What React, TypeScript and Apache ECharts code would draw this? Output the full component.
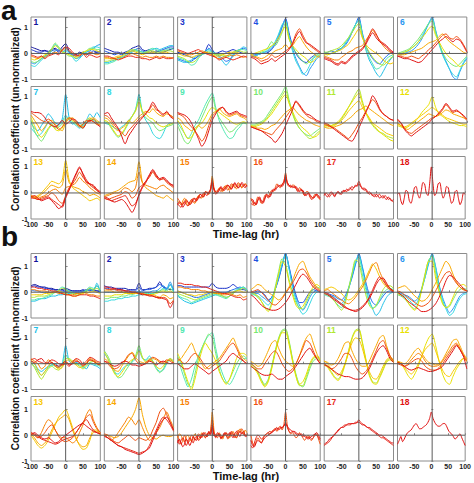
import React, { useEffect, useRef } from "react";
import * as echarts from "echarts";

// Cluster colours 1..18 (jet-like ramp)
const PALETTE = [
  "#10109a", "#1420b0", "#1830c8", "#1c50e0", "#2070f0", "#2896f0",
  "#20c0e8", "#30d8e0", "#50e8b0", "#78e870", "#b0e830", "#e8e000",
  "#f8c800", "#f8a800", "#f88000", "#f05010", "#e82818", "#e01010",
];

const LAG_MIN = -100;
const LAG_MAX = 100;
const LAG_STEP = 50;
const CORR_MIN = -1;
const CORR_STEP = 1;
const CORR_MAX_A = 1.4;
const CORR_MAX_B = 1.5;

// Curves are correlation x 100, sampled evenly from -100 h to +100 h.
// ---------- panel a ----------
const A1_COLORS = [1, 3, 6, 8, 10, 12, 15, 17];
const A1 = [
  [25, 20, 15, 10, 12, 8, 15, 20, 10, 25, 38, 10, 0, -5, 5, 0, -5, 5, 0, 5, 10],
  [15, 10, 5, 5, 10, 5, 10, 15, 5, 15, 25, 5, -5, -10, 0, 5, -5, 0, 10, 5, 5],
  [-35, -40, -30, -20, -10, -5, 0, 10, 15, 5, 15, 5, -10, -20, -15, -5, 5, 10, 20, 30, 35],
  [-45, -50, -40, -25, -15, -5, 10, 35, 20, 5, 10, 0, -15, -30, -20, -5, 5, 15, 25, 25, 20],
  [-30, -35, -30, -20, -10, 5, 20, 40, 25, 10, 0, -10, -10, -20, -10, 0, 10, 20, 20, 15, 15],
  [-20, -25, -20, -15, -5, 0, 15, 30, 20, 5, 0, -5, -10, -15, -5, 5, 10, 15, 15, 10, 5],
  [-10, -15, -20, -10, -15, -5, 0, 5, 0, 10, 20, 10, 0, -10, -5, 0, -5, 5, 0, -5, 0],
  [-5, -10, -15, -10, -20, -10, -5, 0, -5, 15, 25, 20, 5, -5, -10, 0, -15, -5, -10, -15, -10],
];
const A2_COLORS = [2, 4, 7, 9, 11, 13, 15, 17];
const A2 = [
  [20, 15, 10, 5, 5, 0, 5, 10, 20, 25, 30, 15, 10, 15, 5, 10, 5, 5, 10, 15, 20],
  [10, 5, 0, -5, 0, -5, 0, 5, 10, 15, 20, 10, 5, 5, 0, 5, 10, 15, 20, 25, 25],
  [-35, -35, -30, -25, -20, -15, -10, 0, 5, 10, 10, 5, 0, 10, 15, 20, 15, 20, 25, 30, 30],
  [-40, -40, -35, -30, -20, -15, -5, 5, 10, 15, 10, 5, 5, 15, 20, 15, 10, 10, 15, 20, 15],
  [-30, -30, -25, -25, -15, -10, 0, 10, 15, 10, 5, 0, 5, 10, 10, 5, 5, 10, 10, 10, 5],
  [-20, -20, -20, -15, -10, -10, 0, 5, 10, 5, 0, -5, 0, 5, 5, 0, 0, 5, 5, 0, 0],
  [-15, -15, -20, -20, -15, -20, -10, -5, 0, -5, -10, -15, -10, -15, -15, -10, -15, -10, -15, -15, -20],
  [-10, -10, -15, -20, -25, -20, -15, -10, -10, -15, -15, -20, -20, -25, -20, -15, -20, -15, -20, -20, -15],
];
const A3_COLORS = [3, 5, 7, 9, 11, 13, 15, 17];
const A3 = [
  [5, 0, -5, -10, -15, -20, -10, -5, 10, 35, 15, 0, 5, 10, 5, 10, 15, 10, 5, 0, 5],
  [-20, -25, -30, -35, -30, -20, -10, -5, 5, 20, 10, 0, -10, -20, -30, -25, -5, 10, 15, 20, 15],
  [-25, -30, -35, -30, -25, -15, -5, 0, 10, 15, 5, -5, -15, -30, -45, -30, -10, 5, 15, 25, 20],
  [-15, -20, -25, -35, -45, -40, -20, -5, 0, 10, 5, 0, -5, -10, -15, -10, 0, 10, 15, 15, 10],
  [-10, -15, -20, -30, -35, -30, -15, 0, 5, 5, 0, -5, -5, -5, -10, -5, 5, 10, 10, 5, 5],
  [0, -5, -10, -10, -15, -10, -5, 0, 5, 0, -5, -10, -10, -5, 0, 5, 5, 5, 0, 0, 0],
  [10, 5, 0, -5, -5, 0, 5, 10, 5, 0, -5, -15, -20, -15, -10, -5, -10, -5, -10, -15, -10],
  [15, 10, 5, 0, 5, 10, 15, 5, 0, -5, -10, -15, -25, -20, -15, -20, -25, -20, -15, -10, -15],
];
const A4_COLORS = [4, 6, 8, 10, 12, 14, 16, 18];
const A4 = [
  [0, -5, -5, 0, 0, 5, 15, 35, 60, 100, 135, 80, 30, 0, -20, -30, -35, -20, -10, 0, 0],
  [-10, -10, -5, 0, 5, 10, 20, 40, 70, 105, 130, 70, 20, -20, -50, -75, -85, -60, -40, -20, -10],
  [-15, -10, -5, 0, 5, 15, 25, 45, 75, 110, 125, 65, 10, -30, -55, -80, -70, -45, -20, -10, -5],
  [-5, 0, 0, 5, 10, 25, 45, 30, 50, 80, 120, 60, 25, 5, -15, -30, -40, -30, -15, -5, 0],
  [-5, 0, 5, 10, 15, 20, 30, 40, 60, 85, 105, 55, 30, 15, 0, -10, -20, -35, -30, -15, -5],
  [-5, -10, -15, -20, -15, -5, 0, 10, 15, 20, 35, 20, 30, 50, 65, 45, 25, 10, 0, -10, -15],
  [-10, -15, -20, -30, -25, -20, -5, -15, -10, 0, 10, 20, 40, 75, 95, 70, 45, 30, 20, 10, 0],
  [-15, -20, -30, -40, -35, -30, -20, -30, -20, -10, 0, 15, 35, 65, 85, 60, 40, 35, 25, 15, 5],
];
const A5_COLORS = [5, 7, 9, 11, 13, 15, 17, 18];
const A5 = [
  [0, 5, 10, 5, 15, 20, 30, 50, 80, 110, 140, 80, 30, 0, -20, -35, -40, -25, -10, 0, 5],
  [5, 0, 0, 5, 10, 20, 35, 55, 80, 110, 130, 75, 15, -25, -50, -75, -90, -70, -45, -25, -10],
  [0, -5, 0, 5, 10, 20, 40, 60, 85, 110, 125, 70, 20, -15, -40, -60, -55, -40, -20, -10, -5],
  [5, 5, 10, 15, 20, 30, 45, 60, 80, 100, 115, 65, 30, 5, -15, -30, -40, -45, -35, -20, -10],
  [-5, -5, 0, 5, 10, 15, 25, 35, 55, 75, 95, 60, 35, 20, 10, 0, -10, -25, -35, -40, -35],
  [-10, -15, -20, -25, -25, -15, -5, 5, 10, 20, 25, 30, 50, 70, 90, 70, 50, 30, 15, 5, -5],
  [-15, -20, -25, -35, -40, -30, -35, -25, -10, 0, 10, 20, 40, 70, 95, 75, 50, 40, 30, 15, 5],
  [-20, -25, -30, -40, -45, -35, -40, -30, -15, -5, 5, 15, 35, 60, 80, 60, 45, 35, 25, 10, 0],
];
const A6_COLORS = [6, 8, 10, 12, 14, 16, 18];
const A6 = [
  [0, -5, 0, 5, 10, 20, 35, 55, 85, 115, 140, 90, 40, 0, -30, -60, -90, -100, -70, -40, -20],
  [-5, 0, 5, 10, 20, 30, 45, 65, 90, 115, 135, 85, 35, -5, -35, -60, -80, -90, -65, -35, -15],
  [0, 5, 10, 15, 25, 40, 55, 75, 95, 115, 125, 80, 40, 5, -20, -35, -45, -50, -40, -25, -10],
  [0, 0, 5, 10, 20, 30, 45, 60, 75, 95, 105, 70, 45, 20, 0, -15, -25, -40, -50, -45, -35],
  [-5, -5, -5, 0, 5, 10, 15, 20, 30, 40, 45, 50, 65, 75, 60, 45, 35, 25, 15, 5, 0],
  [-10, -10, -15, -15, -10, -15, -20, -10, 0, 15, 25, 40, 55, 70, 75, 60, 55, 65, 55, 35, 10],
  [-10, -15, -20, -20, -25, -30, -35, -30, -15, 0, 15, 30, 45, 55, 65, 55, 45, 55, 50, 30, 5],
];
const A7_COLORS = [7, 8, 10, 12, 14, 16, 18];
const A7 = [
  [0, -20, -30, -10, 10, 35, 20, 0, -5, 15, 110, 20, -5, 5, 0, -10, 10, 35, 20, 40, 20],
  [-20, -35, -50, -40, -20, 0, -5, -15, -10, 5, 30, 10, 0, -10, -20, -10, 5, 15, 10, 0, 5],
  [10, -30, -55, -70, -50, -25, -10, -20, -15, -5, 20, 15, 5, -5, -15, -20, 0, 10, 15, 5, 0],
  [20, -10, -40, -55, -40, -20, -5, -25, -30, -20, 10, 20, 10, 0, -10, -5, 10, 20, 5, -5, -5],
  [30, 10, -10, -30, -15, 5, 10, -5, -20, -30, 0, 15, 20, 5, -10, -15, 0, 15, 20, 10, 0],
  [40, 30, 20, 10, 5, 15, 5, -10, -25, -15, 5, 20, 15, 0, -15, -5, 10, 5, 15, 0, -10],
  [45, 40, 40, 35, 20, 0, -10, -15, -5, 10, -5, 5, 15, 10, -10, -20, 0, 10, 5, -5, -15],
];
const A8_COLORS = [8, 10, 12, 14, 16, 18];
const A8 = [
  [0, -5, -10, -20, -25, -15, -5, 10, 25, 50, 110, 40, 10, -10, -40, -55, -60, -40, -10, 0, -5],
  [5, 0, -20, -40, -55, -45, -25, 0, 25, 50, 95, 40, 20, 10, 0, -20, -30, -25, -15, -10, -5],
  [10, 5, -15, -35, -50, -40, -20, 5, 25, 45, 80, 45, 35, 20, 15, 0, -10, -15, -10, -5, 0],
  [20, 15, 0, -20, -30, -20, -10, 10, 0, 10, 25, 35, 45, 40, 55, 40, 30, 25, 35, 30, 20],
  [30, 25, 10, -10, -25, -35, -50, -30, -15, 0, 15, 25, 40, 50, 70, 50, 45, 35, 40, 30, 20],
  [35, 40, 20, 0, -20, -50, -80, -50, -30, -10, 5, 20, 35, 55, 80, 60, 40, 30, 45, 25, 15],
];
const A9_COLORS = [9, 10, 12, 14, 16, 18];
const A9 = [
  [0, -20, -40, -60, -40, -10, 10, 40, 70, 95, 115, 60, 10, -20, -45, -60, -55, -30, -15, 0, 0],
  [-10, -40, -70, -80, -60, -30, -10, 20, 50, 80, 100, 50, 20, 0, -20, -35, -30, -15, -5, 0, -5],
  [10, -10, -40, -60, -55, -30, -10, 0, 20, 45, 60, 50, 40, 30, 20, 10, 0, -5, 0, 5, 0],
  [20, 10, -10, -20, -30, -20, -10, -20, -10, 10, 35, 45, 55, 40, 30, 25, 30, 35, 25, 20, 10],
  [35, 30, 20, 0, -15, -30, -50, -70, -50, -10, 25, 40, 50, 60, 40, 30, 35, 40, 30, 25, 20],
  [40, 35, 30, 20, 0, -30, -60, -90, -70, -30, 10, 35, 55, 60, 45, 35, 40, 45, 35, 30, 25],
];
const A10_COLORS = [10, 11, 12, 14, 16, 18];
const A10 = [
  [-5, -5, 0, 5, 15, 35, 55, 75, 95, 115, 140, 90, 40, 5, -20, -35, -45, -50, -40, -30, -20],
  [-10, -10, -5, 0, 10, 25, 45, 65, 85, 105, 125, 80, 35, 0, -20, -35, -50, -60, -55, -40, -30],
  [-10, -15, -10, -5, 5, 20, 35, 55, 75, 95, 110, 75, 45, 15, -5, -20, -30, -45, -55, -50, -35],
  [-15, -15, -20, -20, -25, -20, -10, -5, 10, 25, 40, 50, 60, 45, 30, 20, 10, 5, -5, -10, -15],
  [-15, -20, -25, -30, -35, -40, -45, -30, -15, 0, 20, 40, 60, 80, 65, 45, 30, 20, 15, 5, 0],
  [-15, -20, -25, -30, -40, -50, -60, -75, -60, -40, -10, 20, 50, 85, 70, 50, 35, 30, 20, 10, 5],
];
const A11_COLORS = [11, 12, 13, 14, 16, 18];
const A11 = [
  [-10, -5, -10, -5, 0, 15, 35, 60, 85, 110, 130, 85, 40, 10, -10, -25, -35, -40, -50, -55, -60],
  [-15, -15, -10, -5, 5, 20, 40, 60, 80, 100, 115, 75, 40, 15, -5, -20, -35, -45, -55, -65, -70],
  [-10, -10, -15, -10, 0, 10, 25, 45, 60, 75, 85, 60, 40, 20, 0, -10, -20, -30, -40, -45, -50],
  [-15, -20, -20, -15, -10, -5, 5, 15, 25, 40, 50, 55, 65, 55, 45, 35, 25, 15, 5, -5, -10],
  [-5, -10, -15, -20, -30, -40, -50, -60, -45, -25, 0, 20, 45, 70, 90, 75, 50, 35, 25, 15, 10],
  [0, -5, -15, -25, -35, -45, -55, -65, -70, -50, -20, 10, 40, 70, 105, 85, 55, 35, 25, 15, 10],
];
const A12_COLORS = [12, 13, 14, 16, 18];
const A12 = [
  [-10, -15, -20, -15, -5, 5, 20, 40, 55, 70, 100, 60, 35, 25, 15, 5, 0, -5, -10, -10, -15],
  [-5, -10, -15, -10, 0, 10, 20, 30, 40, 50, 60, 50, 40, 30, 20, 15, 10, 5, 0, -5, -5],
  [0, -10, -20, -25, -15, -5, 5, 15, 25, 35, 30, 25, 30, 40, 50, 45, 35, 30, 25, 20, 15],
  [10, 0, -20, -35, -40, -30, -20, -10, 0, 10, 20, 25, 35, 50, 70, 55, 40, 45, 40, 25, 10],
  [15, 0, -25, -40, -50, -40, -30, -20, -10, 0, 15, 25, 40, 55, 75, 60, 45, 50, 40, 30, 15],
];
const A13_COLORS = [13, 14, 15, 16, 17, 18];
const A13 = [
  [-10, -15, -10, 0, 15, 30, 45, 40, 35, 50, 125, 50, 20, 10, 0, -10, -20, -30, -25, -20, -30],
  [-15, -20, -15, -5, 5, 20, 30, 25, 20, 30, 90, 40, 25, 20, 15, 5, 0, -10, -5, -10, -20],
  [-10, -15, -20, -15, -10, 0, 10, 15, 5, -5, 20, 25, 30, 40, 60, 45, 35, 20, 10, 0, -5],
  [-15, -20, -25, -20, -15, -10, 0, -10, -30, -40, -10, 20, 35, 55, 80, 60, 45, 30, 20, 10, 0],
  [-20, -20, -25, -25, -20, -15, -25, -35, -45, -55, -20, 10, 40, 70, 95, 75, 50, 35, 30, 15, 5],
  [-15, -10, -20, -30, -25, -20, -30, -45, -60, -50, -15, 15, 45, 75, 100, 70, 40, 35, 25, 10, 0],
];
const A14_COLORS = [14, 15, 16, 17, 18];
const A14 = [
  [-10, -5, 0, 5, 10, 20, 30, 40, 45, 50, 120, 40, 20, 10, 0, -10, -15, -20, -10, -20, -30],
  [-15, -10, -5, 0, 0, 10, 20, 15, 5, 20, 80, 40, 30, 25, 20, 15, 25, 30, 20, 10, 0],
  [-20, -25, -20, -15, -10, -5, 5, 0, -20, -10, 20, 30, 45, 60, 80, 60, 50, 55, 40, 30, 20],
  [-20, -25, -30, -25, -20, -15, -10, -30, -50, -40, -10, 20, 40, 65, 85, 65, 50, 55, 45, 35, 30],
  [-15, -20, -30, -35, -30, -25, -35, -55, -75, -50, -5, 25, 45, 70, 90, 70, 55, 60, 50, 35, 25],
];
const A15_COLORS = [15, 16, 17, 18];
const A15 = [
  [-30, -40, -45, -30, -20, -35, -50, -40, -30, -35, -40, -25, -10, -15, -20, -5, 5, 0, -5, 10, 65, 20, 0, 5, 20, 15, 5, 20, 30, 20, 10, 25, 35, 25, 15, 30, 35, 20, 25, 35, 30],
  [-20, -30, -40, -45, -30, -25, -35, -45, -35, -20, -25, -30, -15, -5, -10, -15, 0, 5, -5, 15, 55, 15, 5, 10, 15, 5, 15, 25, 20, 10, 20, 35, 30, 20, 25, 40, 30, 20, 30, 35, 25],
  [-40, -50, -55, -40, -35, -45, -50, -35, -25, -30, -35, -20, -15, -20, -10, 0, -5, -10, 5, 10, 45, 10, -5, 5, 15, 20, 10, 15, 25, 30, 20, 15, 30, 35, 25, 20, 30, 35, 25, 20, 30],
  [-45, -35, -40, -55, -45, -30, -35, -45, -40, -25, -20, -30, -20, -5, -10, -15, 5, 0, 0, 15, 40, 15, 5, 0, 10, 25, 15, 10, 20, 30, 25, 15, 25, 40, 30, 20, 25, 40, 35, 25, 30],
];
const A16_COLORS = [16, 17, 18];
const A16 = [
  [-20, -35, -50, -35, -15, -25, -40, -30, -10, -5, -15, 0, 10, 5, 20, 35, 25, 20, 35, 40, 78, 40, 30, 20, 30, 30, 15, 10, 20, 15, 0, -10, 5, 5, -10, -20, -15, -5, -10, -20, -25],
  [-40, -45, -35, -45, -30, -20, -35, -40, -25, -10, -20, -10, 5, 10, 15, 25, 30, 25, 30, 45, 70, 35, 25, 30, 20, 25, 20, 5, 10, 15, 5, -10, -5, 0, -15, -25, -20, -10, -5, -15, -25],
  [-30, -25, -40, -45, -25, -15, -30, -35, -20, -5, -10, -15, 0, 15, 10, 20, 25, 30, 25, 35, 60, 40, 30, 25, 25, 20, 25, 15, 5, 10, 10, -5, -10, 0, -5, -15, -20, -15, -5, -10, -20],
];
const A17_COLORS = [17, 18];
const A17 = [
  [-10, 0, -5, -15, -5, 0, -10, -5, 5, 0, -5, 5, 10, 5, 15, 20, 10, 20, 25, 30, 45, 30, 15, 20, 10, 0, 5, -5, -10, -5, -15, -10, -5, -15, -20, -10, -15, -25, -20, -30, -35],
  [0, -10, -15, -5, 5, -5, -15, 0, 5, -5, 0, 10, 5, 15, 10, 15, 25, 20, 30, 25, 35, 25, 20, 10, 15, 5, -5, 0, -10, -15, -5, -10, -20, -15, -10, -20, -25, -15, -25, -30, -25],
];
const A18_COLORS = [18];
const A18 = [
  [-5, 0, -30, -45, -20, 10, 5, -30, -40, -15, 20, 25, -5, -20, 5, 40, 35, 0, -10, 35, 100, 35, -10, 0, 35, 40, 5, -20, -5, 25, 20, -15, -40, -30, 5, 10, -20, -45, -30, 0, -5],
];

// ---------- panel b ----------
const B1_COLORS = [1, 3, 5, 7, 9, 11, 13, 15, 17];
const B1 = [
  [25, 30, 25, 20, 20, 15, 15, 10, 10, 10, 15, 10, 5, 5, 5, 5, 10, 5, 10, 5, 5],
  [20, 25, 20, 20, 15, 15, 10, 10, 5, 5, 10, 5, 5, 5, 5, 10, 5, 15, 5, 5, 0],
  [10, 5, 5, 0, 0, 0, 0, 5, 0, 0, 5, 0, 0, 0, 0, 5, 5, 10, 10, 25, 5],
  [-35, -35, -30, -25, -25, -20, -15, -15, -10, -10, -5, -5, -5, -5, -5, 0, 5, 10, 5, 35, 0],
  [-30, -30, -25, -25, -20, -15, -10, 0, 10, 20, 15, 5, 0, -5, -5, 0, 10, 20, 15, 25, 10],
  [-20, -20, -15, -15, -15, -10, -5, 0, 5, 15, 10, 0, -5, -10, -10, -5, 5, 15, 10, 15, 5],
  [-10, -10, -10, -10, -5, -5, 0, 0, 5, 0, -5, -10, -15, -15, -10, -5, 0, 0, 5, 0, -5],
  [10, 10, 5, 5, 5, 0, 0, 0, -5, -5, -10, -10, -10, -5, -5, 0, -5, -10, -10, -15, -15],
  [20, 20, 15, 15, 10, 10, 5, 5, 0, -5, -10, -10, -15, -15, -10, -10, -10, -15, -15, -20, -25],
];
const B2_COLORS = [2, 4, 6, 8, 10, 12, 14, 16, 18];
const B2 = [
  [25, 20, 20, 15, 15, 15, 15, 10, 10, 10, 35, 10, 10, 15, 15, 20, 40, 20, 15, 10, 10],
  [15, 15, 10, 10, 10, 10, 5, 5, 5, 5, 20, 5, 10, 10, 15, 20, 30, 20, 10, 30, 10],
  [0, 0, 0, 0, 0, 0, 0, 0, 0, 0, 5, 0, 0, 0, 5, 5, 15, 25, 15, 40, 5],
  [-35, -35, -30, -30, -25, -25, -20, -20, -15, -15, -10, -10, -5, -5, -5, 0, 5, 15, 10, 30, 0],
  [-25, -25, -20, -20, -20, -15, -15, -10, -10, -5, -5, -10, -5, -10, -5, 0, 5, 10, 5, 15, 0],
  [-15, -15, -15, -10, -10, -10, -5, -5, -5, 0, -5, -5, -10, -10, -10, -5, 0, 5, 0, 5, -5],
  [5, 5, 5, 0, 0, 0, 0, -5, -5, -5, -5, -5, -10, -10, -10, -15, -20, -10, -15, -25, -20],
  [15, 10, 10, 10, 5, 5, 5, 0, 0, 0, -5, -5, -10, -10, -15, -20, -25, -20, -25, -45, -30],
  [20, 20, 15, 15, 10, 10, 5, 5, 0, 0, -5, -10, -10, -15, -15, -20, -20, -25, -30, -60, -35],
];
const B3_COLORS = [3, 5, 7, 9, 11, 13, 15, 17];
const B3 = [
  [25, 25, 20, 20, 20, 20, 20, 20, 20, 20, 35, 20, 15, 15, 15, 20, 30, 20, 10, 10, 5],
  [5, 0, -5, -10, -15, -20, -20, -15, -10, -5, 0, 0, 0, 0, 0, 5, 10, 15, 20, 15, 10],
  [-15, -25, -35, -40, -45, -40, -35, -30, -25, -20, -15, -10, -10, -15, -20, -15, -5, 5, 15, 20, 10],
  [-10, -20, -25, -30, -40, -35, -30, -25, -20, -15, -10, -10, -15, -20, -25, -15, 0, 10, 15, 20, 10],
  [-5, -10, -15, -20, -25, -30, -25, -20, -15, -10, -5, -5, -10, -15, -20, -15, -5, 5, 10, 15, 5],
  [5, 0, -5, -10, -10, -15, -10, -10, -5, 0, 0, 0, -5, -5, -5, 0, 0, 5, 5, 0, 0],
  [20, 20, 15, 15, 10, 10, 10, 5, 5, 0, 0, -5, -5, -10, -10, -5, -10, -15, -10, -20, -15],
  [35, 35, 30, 30, 30, 25, 25, 20, 20, 15, 10, 5, 0, -5, -5, -10, -15, -20, -20, -30, -25],
];
const B4_COLORS = [4, 6, 8, 10, 12, 14, 16, 18];
const B4 = [
  [0, 0, 5, 0, -10, -30, -20, 10, 50, 100, 150, 100, 40, -10, -40, -40, -20, 0, 10, 5, 0],
  [-5, -5, -5, -15, -25, -35, -20, 10, 55, 105, 150, 95, 30, -20, -50, -70, -50, -20, 0, 5, 0],
  [-10, -10, -15, -25, -40, -50, -30, 10, 60, 110, 145, 90, 20, -30, -65, -85, -75, -45, -15, 0, 5],
  [-5, -10, -20, -35, -55, -70, -40, 20, 80, 130, 110, 50, 0, -40, -60, -65, -40, -10, 10, 20, 15],
  [0, -5, -15, -35, -60, -75, -50, 10, 70, 120, 100, 40, -10, -50, -65, -55, -30, 0, 20, 30, 20],
  [10, 20, 30, 25, 10, 0, -10, -20, -30, -20, 0, 20, 45, 80, 110, 120, 90, 60, 40, 20, 10],
  [0, 5, 10, 0, -15, -30, -45, -50, -40, -25, -5, 15, 35, 60, 85, 90, 75, 50, 30, 15, 5],
  [-10, -20, -35, -50, -60, -65, -70, -70, -65, -55, -40, -20, 5, 30, 55, 70, 60, 40, 20, 10, 0],
];
const B5_COLORS = [5, 7, 9, 11, 13, 15, 17, 18];
const B5 = [
  [0, -5, -10, -15, -25, -30, -15, 15, 55, 105, 150, 100, 40, -10, -40, -50, -35, -15, 0, 5, 0],
  [-5, -10, -15, -20, -35, -45, -25, 10, 60, 110, 145, 95, 25, -30, -65, -90, -75, -45, -20, -5, 0],
  [-10, -15, -20, -35, -50, -60, -35, 15, 70, 120, 135, 70, 10, -40, -60, -55, -30, -5, 10, 15, 10],
  [-5, -10, -20, -35, -55, -70, -45, 10, 70, 125, 115, 50, -10, -50, -65, -50, -20, 10, 25, 25, 15],
  [10, 15, 20, 15, 5, -5, -20, -30, -25, -10, 10, 30, 55, 85, 110, 90, 60, 35, 20, 10, 5],
  [5, 10, 0, -10, -20, -30, -40, -45, -35, -20, 0, 20, 45, 75, 105, 115, 80, 50, 30, 15, 5],
  [0, -5, -15, -25, -35, -45, -55, -65, -70, -70, -65, -55, -40, -20, 10, 40, 60, 45, 25, 10, 0],
  [-5, -10, -20, -30, -40, -50, -60, -65, -70, -75, -70, -60, -45, -25, 0, 30, 50, 55, 35, 15, 5],
];
const B6_COLORS = [6, 8, 10, 12, 14, 16, 18];
const B6 = [
  [0, -5, -10, -15, -25, -35, -20, 15, 60, 110, 150, 100, 30, -20, -55, -80, -65, -40, -15, -5, 0],
  [-5, -10, -15, -25, -40, -50, -30, 10, 60, 115, 145, 95, 25, -30, -65, -90, -80, -50, -25, -10, -5],
  [-10, -15, -25, -40, -55, -65, -40, 15, 75, 125, 140, 75, 10, -40, -60, -55, -30, -5, 10, 15, 10],
  [-5, -10, -20, -40, -60, -70, -45, 10, 70, 120, 120, 55, 0, -45, -60, -50, -20, 10, 25, 30, 20],
  [15, 20, 25, 15, 0, -15, -25, -35, -30, -15, 10, 35, 65, 95, 120, 105, 70, 40, 20, 10, 5],
  [5, 0, -10, -20, -30, -40, -50, -55, -50, -40, -20, 5, 30, 55, 75, 80, 55, 35, 20, 10, 5],
  [0, -10, -20, -35, -45, -55, -65, -75, -75, -70, -60, -45, -20, 10, 45, 65, 60, 45, 30, 15, 5],
];
const B7_COLORS = [7, 9, 11, 13, 15, 17, 18];
const B7 = [
  [10, 0, -20, -30, -20, -10, -5, 0, -10, 0, 70, 10, 0, 5, 0, -10, -20, 0, -5, -10, -20],
  [0, -10, -30, -45, -30, -15, -5, -10, -15, -5, 35, 15, 5, 0, -5, -15, -5, 5, 0, -5, -10],
  [5, -15, -40, -60, -40, -20, -10, -20, -25, -10, 20, 20, 10, 0, -10, -20, -10, 5, 10, 0, -5],
  [15, 0, -25, -45, -30, -10, 5, -10, -20, -15, 10, 15, 5, -5, -15, -10, 5, 15, 10, 0, -5],
  [20, 10, 0, -20, -10, 15, 5, -10, -15, -5, 5, 0, 10, 15, 5, -10, 0, 20, 15, 5, 0],
  [15, 20, 10, 5, 0, 5, 15, 10, 0, -5, 0, -10, 5, 20, 15, 0, 10, 25, 20, 10, 5],
  [10, 5, 15, 20, 5, 0, 5, -5, -10, 0, 10, -5, 0, 10, 5, -5, 0, 15, 10, 0, -5],
];
const B8_COLORS = [8, 10, 12, 14, 16, 18];
const B8 = [
  [40, 20, -10, -35, -40, -25, -10, -5, 5, 20, 55, 20, 15, 30, 10, -15, -30, -25, 0, 20, 10],
  [50, 30, 0, -30, -55, -50, -30, -10, 10, 30, 70, 25, 10, 20, 5, -20, -35, -20, 5, 15, 5],
  [45, 20, -10, -40, -50, -35, -15, 5, 15, 25, 50, 25, 5, 15, 10, -10, -20, -10, 10, 20, 10],
  [20, 10, -10, -25, -30, -10, 10, 30, 45, 25, 10, 5, 0, 10, 20, 15, 5, 0, 10, 15, 5],
  [10, 0, -15, -20, -15, 0, 15, 35, 40, 15, 0, -5, 5, 15, 25, 20, 10, 5, 15, 10, 0],
  [10, 5, -5, -10, -5, 5, 10, 5, -5, -5, -10, -5, 0, 10, 5, -5, 5, 10, 5, 0, 5],
];
const B9_COLORS = [9, 10, 12, 14, 16, 18];
const B9 = [
  [20, -20, -60, -90, -60, -10, 30, 60, 90, 110, 120, 60, 0, -40, -70, -80, -60, -30, 0, 20, 20],
  [30, 0, -40, -80, -90, -40, 20, 60, 90, 115, 100, 40, -20, -60, -75, -60, -30, 0, 20, 30, 20],
  [40, 10, -30, -70, -100, -60, 0, 50, 80, 60, 40, 10, -30, -60, -80, -60, -20, 20, 40, 40, 30],
  [10, 20, 40, 60, 80, 50, 20, 0, -20, -10, 0, 10, 20, 40, 60, 80, 100, 70, 40, 20, 10],
  [20, 10, 0, 10, 30, 40, 30, 10, -10, -20, -10, 0, 10, 30, 50, 70, 80, 60, 30, 10, 0],
  [0, -10, -20, -20, -10, 0, -10, -20, -30, -40, -30, -20, -10, 0, 10, 30, 40, 30, 20, 10, 0],
];
const B10_COLORS = [10, 11, 12, 14, 16, 18];
const B10 = [
  [0, -10, -30, -60, -80, -60, -10, 50, 100, 130, 135, 90, 20, -40, -80, -90, -60, -20, 10, 20, 10],
  [-5, -15, -35, -65, -85, -65, -15, 45, 95, 125, 130, 85, 15, -45, -85, -85, -50, -10, 20, 25, 15],
  [-10, -20, -40, -70, -90, -70, -20, 40, 90, 120, 120, 75, 10, -50, -80, -70, -40, 0, 25, 30, 20],
  [10, 0, -10, -5, 20, 50, 80, 90, 60, 30, 10, 0, -10, 0, 30, 70, 100, 115, 80, 40, 10],
  [0, -10, -20, -20, 0, 20, 40, 50, 30, 0, -20, -30, -20, 0, 30, 60, 90, 80, 50, 20, 0],
  [-10, -20, -30, -40, -45, -45, -40, -50, -60, -60, -50, -40, -30, -10, 10, 30, 50, 60, 40, 20, 0],
];
const B11_COLORS = [11, 12, 13, 14, 16, 18];
const B11 = [
  [0, -10, -30, -50, -60, -40, 0, 50, 100, 130, 135, 85, 20, -40, -70, -75, -50, -20, 10, 20, 10],
  [-5, -15, -35, -55, -65, -45, -5, 45, 95, 125, 130, 80, 15, -45, -75, -80, -55, -25, 5, 15, 5],
  [10, 0, -20, -35, -45, -30, 0, 40, 80, 100, 95, 60, 10, -30, -55, -60, -40, -10, 15, 25, 15],
  [10, 5, -5, 0, 20, 50, 80, 85, 50, 20, 0, -10, -10, 10, 40, 70, 100, 110, 70, 30, 10],
  [0, -10, -20, -15, 0, 20, 40, 40, 20, -10, -30, -40, -30, -10, 20, 50, 80, 90, 60, 30, 10],
  [-5, -10, -20, -30, -40, -45, -50, -50, -55, -60, -60, -55, -40, -20, 10, 40, 60, 70, 50, 20, 5],
];
const B12_COLORS = [12, 13, 14, 15, 16, 18];
const B12 = [
  [10, 0, -20, -45, -60, -40, -10, 30, 70, 100, 115, 70, 10, -40, -70, -80, -50, -20, 0, 20, 10],
  [5, 0, -15, -30, -40, -25, 0, 30, 55, 70, 80, 50, 10, -25, -45, -50, -30, -10, 10, 20, 10],
  [10, 5, 0, 10, 30, 50, 60, 40, 20, 5, 0, -5, 0, 15, 40, 65, 90, 95, 70, 40, 20],
  [5, 0, -10, 0, 15, 30, 40, 30, 10, -5, -10, -10, -5, 10, 30, 50, 70, 80, 60, 35, 15],
  [0, -5, -10, -5, 5, 15, 20, 10, -10, -20, -25, -25, -15, 0, 20, 40, 60, 75, 55, 30, 10],
  [5, 0, -10, -20, -25, -20, -15, -20, -25, -30, -30, -25, -20, -10, 10, 30, 50, 70, 55, 30, -20],
];
const B13_COLORS = [13, 14, 15, 16, 17, 18];
const B13 = [
  [0, -20, -40, -50, -40, -20, 10, 40, 70, 85, 100, 70, 30, -10, -40, -55, -50, -20, 20, 20, 0],
  [5, -10, -30, -40, -30, -10, 20, 45, 60, 70, 80, 60, 20, -15, -35, -45, -40, -10, 10, 15, 5],
  [10, 0, -10, 10, 40, 60, 50, 20, 0, -10, -10, -20, -30, -20, 10, 40, 80, 100, 60, 30, 10],
  [5, 0, -10, -5, 10, 30, 40, 20, -5, -20, -25, -20, -10, 10, 30, 50, 70, 80, 50, 25, 10],
  [10, 5, -5, -15, -20, -25, -30, -35, -30, -20, -15, -10, -5, 10, 30, 50, 60, 40, 20, 10, 5],
  [0, 10, 0, -10, -15, -10, -20, -30, -25, -10, 0, 10, 20, 30, 40, 45, 35, 25, 15, 10, 5],
];
const B14_COLORS = [14, 15, 16, 17, 18];
const B14 = [
  [0, 0, -5, -10, -5, 10, 30, 50, 70, 100, 145, 80, 30, 0, -10, -15, -5, 0, -5, -5, 0],
  [0, -10, -20, -10, 10, 30, 50, 70, 60, 40, 60, 30, 0, -20, -10, 10, 30, 60, 90, 60, 30],
  [5, 0, -15, -25, -30, -20, -10, 0, -10, -20, -10, -15, -20, -10, 20, 50, 90, 105, 80, 50, 20],
  [0, -10, -20, -30, -40, -45, -50, -55, -60, -65, -70, -65, -60, -40, -10, 20, 50, 70, 60, 40, 15],
  [-5, -10, -20, -30, -40, -45, -55, -60, -65, -70, -75, -70, -60, -50, -20, 10, 40, 60, 70, 50, 20],
];
const B15_COLORS = [15, 16, 17, 18];
const B15 = [
  [-10, 5, 0, -20, -25, -5, 0, -15, -25, -10, 5, -5, -15, -5, 10, 0, -10, 0, 10, 15, 90, 20, -5, 0, 10, -5, -15, 0, 10, -5, -10, 5, 15, 0, -10, 10, 25, 15, 5, 20, 10],
  [0, -20, -35, -20, 0, -15, -30, -20, 0, -5, -20, -10, 5, 0, -10, 5, 10, -5, 0, 15, 60, 10, 0, -10, 5, 0, -10, 5, 0, -15, -5, 10, 0, -10, 5, 20, 10, 25, 15, 0, 5],
  [-20, -35, -20, -10, -25, -40, -25, -10, -20, -30, -10, -5, -20, -15, 5, 0, -10, 5, 10, 0, 40, 5, -10, 0, 5, -15, -5, 10, 0, -10, 0, 15, 5, -5, -10, 5, 15, 5, 15, 0, -5],
  [-30, -15, -30, -45, -35, -15, -25, -40, -25, -5, -15, -20, 0, -10, -5, 10, 0, -5, 15, 5, 30, 0, -5, 10, 0, -10, -5, 5, 10, 0, 10, 0, -10, 5, 15, 5, -5, 10, 5, -5, 0],
];
const B16_COLORS = [16, 17, 18];
const B16 = [
  [0, -30, -40, -25, -10, -20, -30, -15, 0, 5, 10, 5, 15, 20, 25, 15, 30, 35, 20, 40, 90, 40, 15, 5, 10, 0, -10, -5, 10, 0, -10, -20, -10, 0, -15, -20, -10, 0, 5, -15, -35],
  [-40, -50, -30, -10, 0, -5, -15, -10, 0, 5, 10, 15, 10, 20, 25, 30, 20, 25, 30, 35, 50, 30, 15, 10, 15, 10, 5, 0, 5, 0, -5, 0, -5, -10, -5, -15, -10, 5, 0, -10, -20],
  [-20, -40, -45, -30, -20, -25, -30, -20, -10, -5, 0, 5, 10, 15, 20, 25, 25, 30, 30, 35, 45, 35, 25, 20, 15, 15, 10, 5, 0, 5, 0, -5, -10, -15, -10, -5, 0, 5, 10, 0, -15],
];
const B17_COLORS = [17, 18];
const B17 = [
  [-40, -35, -30, -25, -15, -5, 0, 10, 15, 25, 30, 35, 40, 40, 40, 40, 45, 45, 45, 50, 60, 50, 45, 40, 35, 30, 25, 20, 15, 10, 5, 0, -5, -10, -10, -15, -20, -25, -30, -35, -40],
  [-35, -30, -25, -15, -10, -5, 5, 10, 20, 25, 30, 30, 35, 40, 45, 45, 45, 45, 50, 50, 50, 45, 40, 40, 35, 30, 30, 25, 20, 15, 10, 5, 0, 0, -5, -10, -15, -20, -25, -30, -30],
];
const B18_COLORS = [18];
const B18 = [
  [-35, -20, -5, -25, -15, 0, 10, 15, 20, 30, 40, 45, 35, 25, 25, 30, 35, 40, 50, 65, 90, 65, 50, 40, 35, 35, 40, 45, 45, 35, 20, 10, 5, -5, -15, -10, 0, 5, -10, -25, -40],
];

const X_LABEL = "Time-lag (hr)";
const Y_LABEL = "Correlation coefficient (un-normalized)";

type Grid = { colors: number[]; curves: number[][] };
type Panel = { letter: string; letterY: number; yMax: number; rowTops: number[]; rowH: number; grids: Grid[] };

const PANELS: Panel[] = [
  {
    letter: "a",
    letterY: 10.5,
    yMax: CORR_MAX_A,
    rowTops: [17, 86.5, 156.5],
    rowH: 62.5,
    grids: [
      { colors: A1_COLORS, curves: A1 }, { colors: A2_COLORS, curves: A2 }, { colors: A3_COLORS, curves: A3 },
      { colors: A4_COLORS, curves: A4 }, { colors: A5_COLORS, curves: A5 }, { colors: A6_COLORS, curves: A6 },
      { colors: A7_COLORS, curves: A7 }, { colors: A8_COLORS, curves: A8 }, { colors: A9_COLORS, curves: A9 },
      { colors: A10_COLORS, curves: A10 }, { colors: A11_COLORS, curves: A11 }, { colors: A12_COLORS, curves: A12 },
      { colors: A13_COLORS, curves: A13 }, { colors: A14_COLORS, curves: A14 }, { colors: A15_COLORS, curves: A15 },
      { colors: A16_COLORS, curves: A16 }, { colors: A17_COLORS, curves: A17 }, { colors: A18_COLORS, curves: A18 },
    ],
  },
  {
    letter: "b",
    letterY: 236,
    yMax: CORR_MAX_B,
    rowTops: [253.5, 325, 396.5],
    rowH: 64.5,
    grids: [
      { colors: B1_COLORS, curves: B1 }, { colors: B2_COLORS, curves: B2 }, { colors: B3_COLORS, curves: B3 },
      { colors: B4_COLORS, curves: B4 }, { colors: B5_COLORS, curves: B5 }, { colors: B6_COLORS, curves: B6 },
      { colors: B7_COLORS, curves: B7 }, { colors: B8_COLORS, curves: B8 }, { colors: B9_COLORS, curves: B9 },
      { colors: B10_COLORS, curves: B10 }, { colors: B11_COLORS, curves: B11 }, { colors: B12_COLORS, curves: B12 },
      { colors: B13_COLORS, curves: B13 }, { colors: B14_COLORS, curves: B14 }, { colors: B15_COLORS, curves: B15 },
      { colors: B16_COLORS, curves: B16 }, { colors: B17_COLORS, curves: B17 }, { colors: B18_COLORS, curves: B18 },
    ],
  },
];

const FONT = '"Liberation Sans", Arial, sans-serif';
const COL_LEFT = 31;
const COL_STEP = 73.3;
const COL_W = 69.3;
const BOX = "#8c8c8c";
const ZERO = "#5a5a5a";

export default function App() {
  const ref = useRef<HTMLDivElement>(null);

  useEffect(() => {
    if (!ref.current) return;
    const chart = echarts.init(ref.current, undefined, { renderer: "svg" });

    const grid: any[] = [];
    const xAxis: any[] = [];
    const yAxis: any[] = [];
    const series: any[] = [];
    const texts: any[] = [];

    PANELS.forEach((panel) => {
      panel.grids.forEach((g, k) => {
        const row = Math.floor(k / 6);
        const col = k % 6;
        const gi = grid.length;
        const left = COL_LEFT + col * COL_STEP;
        const top = panel.rowTops[row];
        grid.push({ left, top, width: COL_W, height: panel.rowH, show: true, borderColor: BOX, borderWidth: 1, backgroundColor: "transparent" });
        xAxis.push({
          type: "value", gridIndex: gi, min: LAG_MIN, max: LAG_MAX, interval: LAG_STEP,
          axisLine: { show: false },
          axisTick: { show: true, inside: true, length: 2, lineStyle: { color: BOX } },
          splitLine: { show: false },
          axisLabel: {
            show: row === 2, showMinLabel: col === 0, showMaxLabel: true,
            fontSize: 7, fontWeight: "bold", fontFamily: FONT, color: "#222", margin: 2,
          },
        });
        yAxis.push({
          type: "value", gridIndex: gi, min: CORR_MIN, max: panel.yMax, interval: CORR_STEP,
          axisLine: { show: false },
          axisTick: { show: true, inside: true, length: 2, lineStyle: { color: BOX } },
          splitLine: { show: false },
          axisLabel: {
            show: col === 0, fontSize: 7, fontWeight: "bold", fontFamily: FONT, color: "#222", margin: 3,
            formatter: (v: number) => (Math.abs(v - Math.round(v)) < 1e-6 ? String(Math.round(v)) : ""),
          },
        });
        g.curves.forEach((vals, j) => {
          const n = vals.length;
          series.push({
            type: "line", xAxisIndex: gi, yAxisIndex: gi, silent: true, symbol: "none", smooth: 0.25,
            lineStyle: { width: 1, color: PALETTE[g.colors[j] - 1] },
            data: vals.map((v, i) => [LAG_MIN + (i * (LAG_MAX - LAG_MIN)) / (n - 1), v / 100]),
          });
        });
        texts.push({
          type: "text", x: left + 2.5, y: top + 5, z: 120, silent: true,
          style: { text: String(k + 1), fontSize: 8.5, fontWeight: "bold", fontFamily: FONT, fill: PALETTE[k], align: "left", verticalAlign: "middle" },
        });
      });
    });

    chart.setOption({ animation: false, backgroundColor: "#fff", grid, xAxis, yAxis, series });

    const lines: any[] = [];
    PANELS.forEach((panel, p) => {
      const base = p * 18;
      for (let c = 0; c < 6; c++) {
        const [x0, yTop] = chart.convertToPixel({ gridIndex: base + c }, [0, panel.yMax]) as number[];
        const [, yBot] = chart.convertToPixel({ gridIndex: base + 12 + c }, [0, CORR_MIN]) as number[];
        lines.push({ type: "line", z: 110, silent: true, shape: { x1: x0, y1: yTop, x2: x0, y2: yBot }, style: { stroke: ZERO, lineWidth: 1 } });
      }
      for (let r = 0; r < 3; r++) {
        const [xl, y0] = chart.convertToPixel({ gridIndex: base + r * 6 }, [LAG_MIN, 0]) as number[];
        const [xr] = chart.convertToPixel({ gridIndex: base + r * 6 + 5 }, [LAG_MAX, 0]) as number[];
        lines.push({ type: "line", z: 110, silent: true, shape: { x1: xl, y1: y0, x2: xr, y2: y0 }, style: { stroke: ZERO, lineWidth: 1 } });
      }
    });

    const labels: any[] = [];
    PANELS.forEach((panel) => {
      const midY = (panel.rowTops[0] + panel.rowTops[2] + panel.rowH) / 2;
      const bottom = panel.rowTops[2] + panel.rowH;
      labels.push(
        { type: "text", x: 1, y: panel.letterY, z: 120, silent: true, style: { text: panel.letter, fontSize: 28, lineHeight: 20, fontWeight: "bold", fontFamily: FONT, fill: "#111", align: "left", verticalAlign: "middle" } },
        { type: "text", x: 15, y: midY + 1, rotation: Math.PI / 2, z: 120, silent: true, style: { text: Y_LABEL, fontSize: 10, fontWeight: "bold", fontFamily: FONT, fill: "#111", align: "center", verticalAlign: "middle" } },
        { type: "text", x: 246, y: bottom + 14.5, z: 120, silent: true, style: { text: X_LABEL, fontSize: 11, fontWeight: "bold", fontFamily: FONT, fill: "#111", align: "center", verticalAlign: "middle" } },
      );
    });

    chart.setOption({ graphic: { elements: [...lines, ...texts, ...labels] } });

    return () => chart.dispose();
  }, []);

  return <div ref={ref} style={{ position: "absolute", left: 0, top: 0, width: 474, height: 483, background: "#fff" }} />;
}
